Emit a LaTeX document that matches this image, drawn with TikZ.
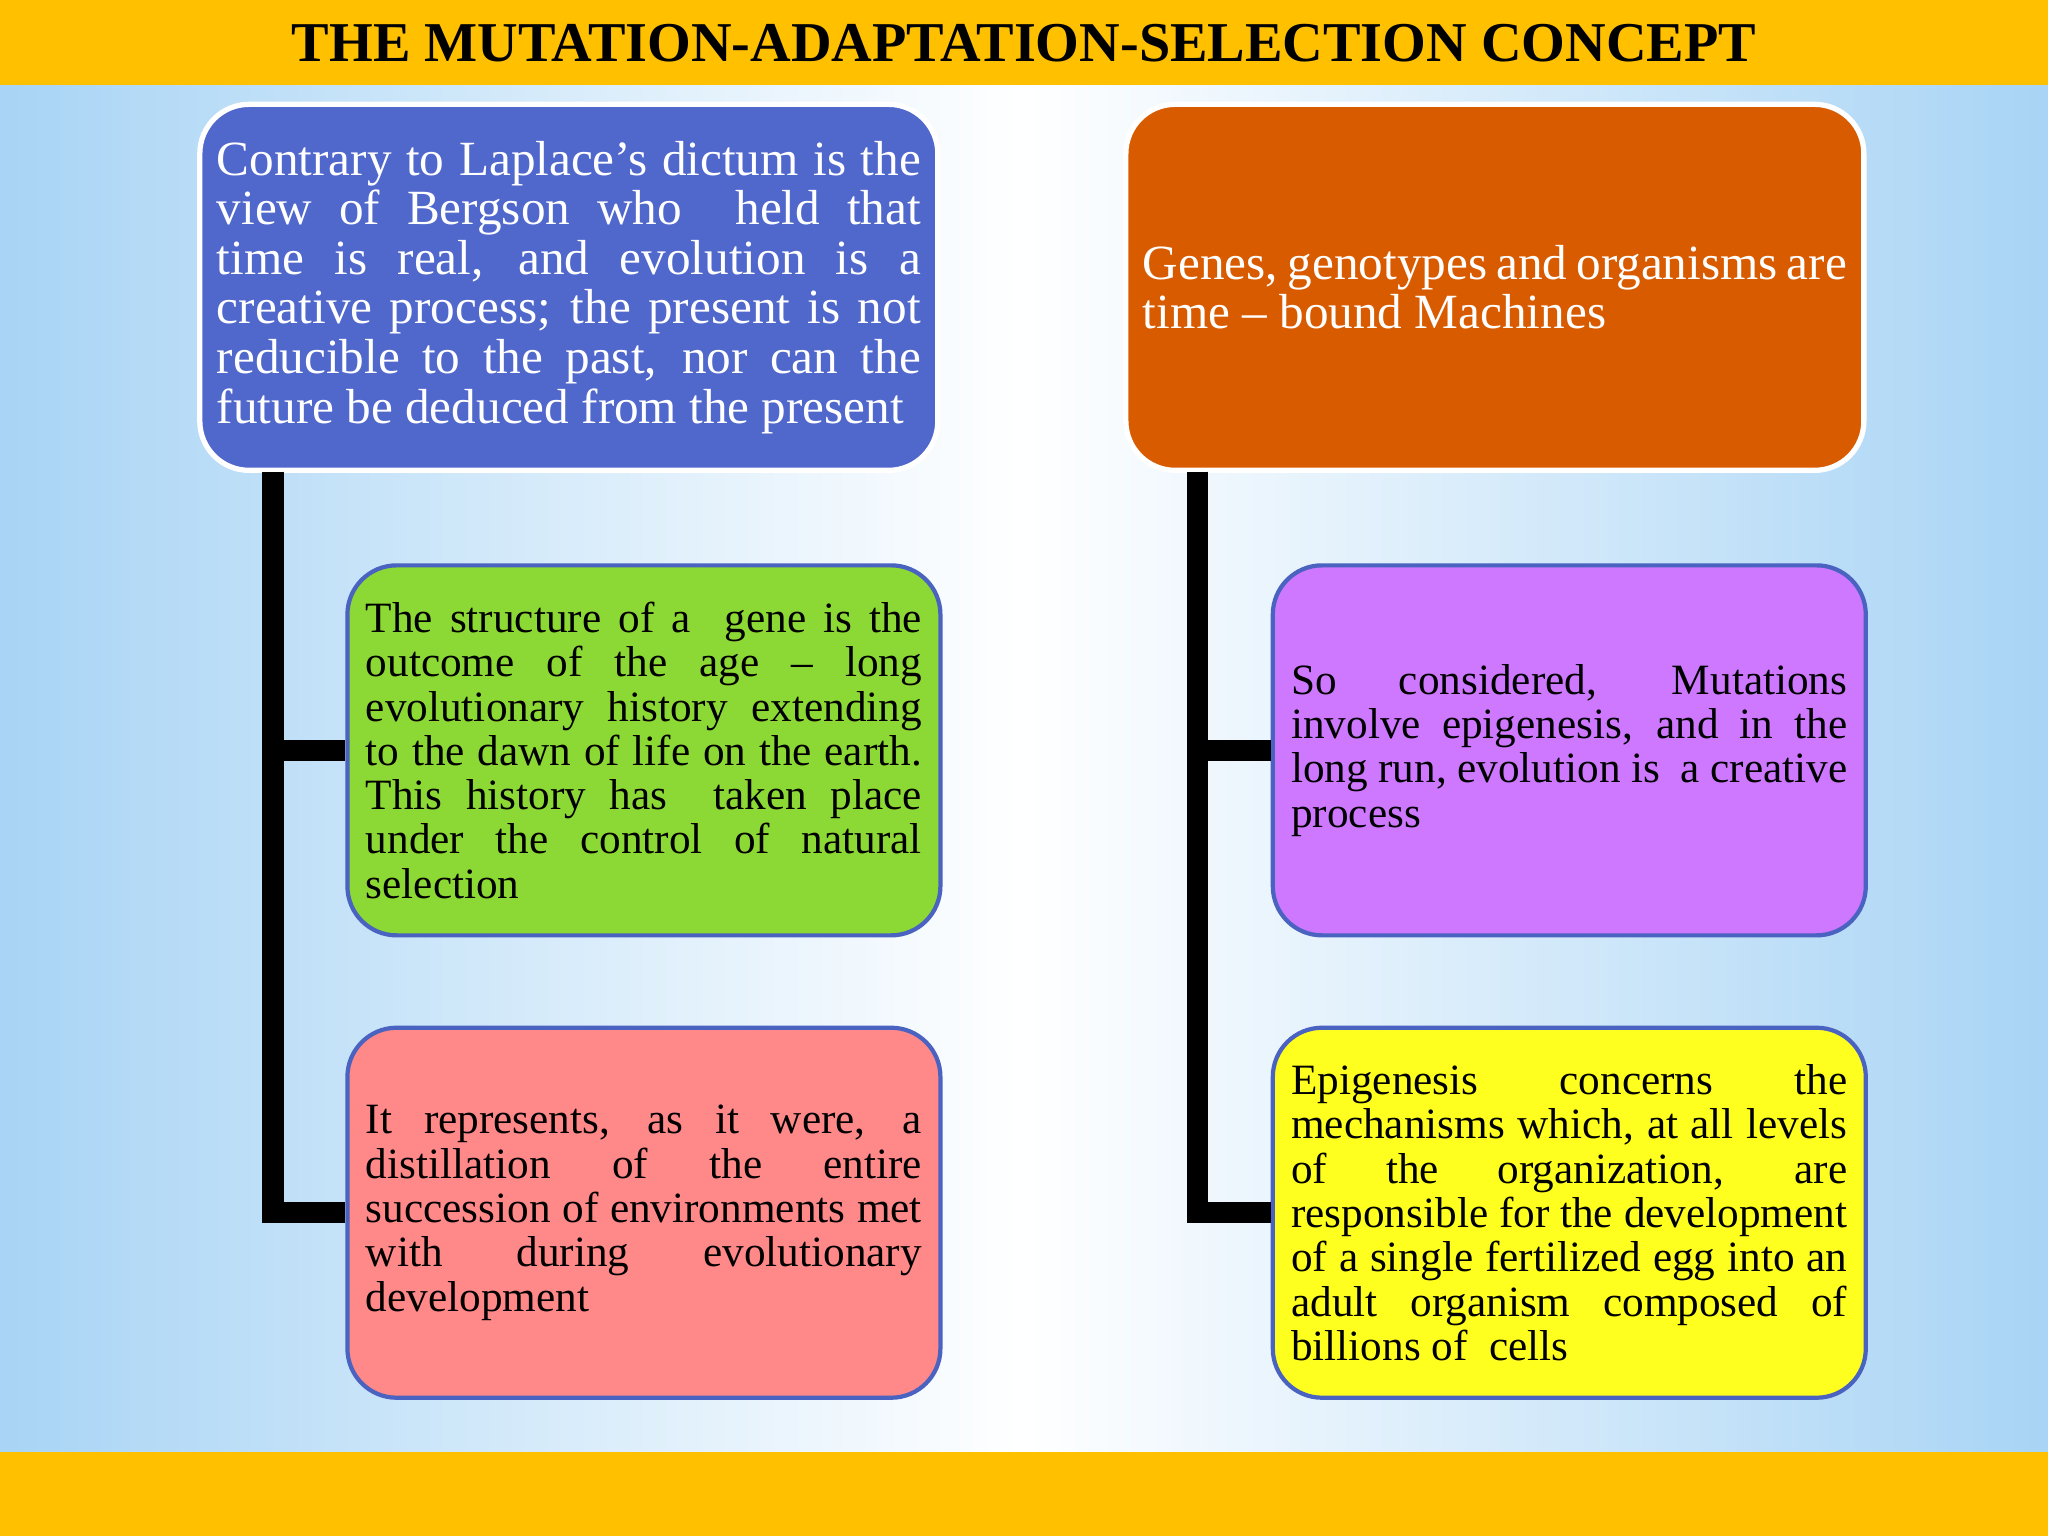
\documentclass[tikz,border=0pt]{standalone}
\usepackage{fontspec}
\setmainfont{Liberation Serif}
\usetikzlibrary{positioning}
\hyphenpenalty=10000
\exhyphenpenalty=10000
\definecolor{bandorange}{HTML}{FFC000}
\definecolor{skyblue}{HTML}{A8D4F5}
\definecolor{boxblue}{HTML}{5067CC}
\definecolor{boxorange}{HTML}{D95B00}
\definecolor{boxgreen}{HTML}{8CD834}
\definecolor{boxpink}{HTML}{FF8888}
\definecolor{boxpurple}{HTML}{CD78FF}
\definecolor{boxyellow}{HTML}{FFFF1F}
\definecolor{edgeblue}{HTML}{4A62C0}
\tikzset{
  headbox/.style={draw=white, line width=1.5pt, rounded corners=14pt, text=white,
    minimum width=7.38cm, minimum height=3.66cm, text width=7.04cm, align=justify,
    font=\fontsize{14}{14.1}\selectfont},
  subbox/.style={draw=edgeblue, line width=1.2pt, rounded corners=14pt,
    minimum width=5.93cm, minimum height=3.70cm, text width=5.56cm, align=justify,
    font=\fontsize{12.3}{12.6}\selectfont},
  tree/.style={line width=6pt, line cap=butt, line join=miter}
}
\begin{document}
\begin{tikzpicture}[x=0.01306cm,y=-0.01306cm]
  % background
  \shade[left color=skyblue, right color=skyblue, middle color=white] (0,65) rectangle (1568,1112);
  \fill[bandorange] (0,0) rectangle (1568,65);
  \fill[bandorange] (0,1112) rectangle (1568,1176);
  \node[font=\bfseries\fontsize{16}{18}\selectfont] (title) at (784,33) {THE MUTATION-ADAPTATION-SELECTION CONCEPT};

  % left column
  \node[headbox, fill=boxblue] (bergson) at (435.5,220) {Contrary to Laplace’s dictum is the\linebreak view of Bergson who\ \ held that\linebreak time is real, and evolution is a\linebreak creative process; the present is not\linebreak reducible to the past, nor can the\linebreak future be deduced from the present};
  \node[subbox, fill=boxgreen] (gene) at (493,574.5) {The structure of a\ \ gene is the\linebreak outcome of the age -- long\linebreak evolutionary history extending\linebreak to the dawn of life on the earth.\linebreak This history has\ \ taken place\linebreak under the control of natural\linebreak selection};
  \node[subbox, fill=boxpink] (distil) at (493,928.5) {It represents, as it were, a\linebreak distillation of the entire\linebreak succession of environments met\linebreak with during evolutionary\linebreak development};

  % right column
  \node[headbox, fill=boxorange] (machines) at (1144.5,220) {Genes, genotypes and organisms are time -- bound Machines};
  \node[subbox, fill=boxpurple] (mutation) at (1201.5,574.5) {So considered, Mutations\linebreak involve epigenesis, and in the\linebreak long run, evolution is\ \ a creative\linebreak process};
  \node[subbox, fill=boxyellow] (epigen) at (1201.5,928.5) {Epigenesis concerns the\linebreak mechanisms which, at all levels\linebreak of the organization, are\linebreak responsible for the development\linebreak of a single fertilized egg into an\linebreak adult organism composed of\linebreak billions of\ \ cells};

  % connectors
  \coordinate (lroot) at (209,361);
  \coordinate (rroot) at (917,361);
  \draw[tree] (lroot) |- (gene.west);
  \draw[tree] (lroot) |- (distil.west);
  \draw[tree] (rroot) |- (mutation.west);
  \draw[tree] (rroot) |- (epigen.west);
\end{tikzpicture}
\end{document}
